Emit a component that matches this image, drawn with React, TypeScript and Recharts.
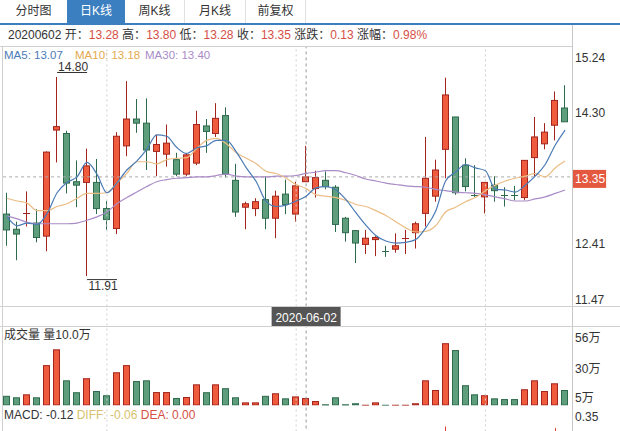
import React from 'react';
import { ComposedChart, Bar, Line, XAxis, YAxis, ReferenceLine, ReferenceDot } from 'recharts';

const FONT = '"Liberation Sans", Arial, "Noto Sans CJK SC", sans-serif';

const dates = ["2020-04-16","2020-04-17","2020-04-20","2020-04-21","2020-04-22","2020-04-23","2020-04-24","2020-04-27","2020-04-28","2020-04-29","2020-04-30","2020-05-06","2020-05-07","2020-05-08","2020-05-11","2020-05-12","2020-05-13","2020-05-14","2020-05-15","2020-05-18","2020-05-19","2020-05-20","2020-05-21","2020-05-22","2020-05-25","2020-05-26","2020-05-27","2020-05-28","2020-05-29","2020-06-01","2020-06-02","2020-06-03","2020-06-04","2020-06-05","2020-06-08","2020-06-09","2020-06-10","2020-06-11","2020-06-12","2020-06-15","2020-06-16","2020-06-17","2020-06-18","2020-06-19","2020-06-22","2020-06-23","2020-06-24","2020-06-29","2020-06-30","2020-07-01","2020-07-02","2020-07-03","2020-07-06","2020-07-07","2020-07-08","2020-07-09","2020-07-10"];

const opens = [12.81,12.59,12.80,12.68,12.49,14.03,13.98,13.28,13.27,13.27,12.89,12.60,13.80,14.19,14.13,13.72,13.68,13.60,13.39,13.55,14.09,13.98,14.24,13.30,12.91,12.89,13.02,12.75,13.10,12.81,13.28,13.18,13.30,13.20,12.75,12.57,12.37,12.44,12.27,12.30,12.45,12.54,12.82,13.07,13.75,14.22,13.52,13.09,13.06,13.23,13.08,13.08,13.05,13.63,13.83,14.10,14.35];
const highs = [13.12,12.70,13.14,12.88,13.72,14.80,14.02,13.59,13.76,13.61,13.00,14.00,14.74,14.48,14.49,13.96,14.11,13.70,13.69,14.31,14.19,14.42,14.36,13.54,12.99,13.04,13.36,13.15,13.31,13.28,13.80,13.44,13.43,13.23,12.77,12.57,12.58,12.49,12.35,12.53,12.58,12.70,13.93,13.60,14.79,14.22,13.62,13.52,13.27,13.36,13.20,13.22,13.59,14.22,14.13,14.59,14.68];
const lows = [12.35,12.14,12.63,12.40,12.27,13.56,13.11,12.91,11.91,12.81,12.58,12.52,13.65,13.99,13.45,13.36,13.50,13.36,13.36,13.52,13.70,13.93,13.34,12.77,12.59,12.78,12.59,12.46,12.81,12.70,13.28,13.05,13.17,12.55,12.41,12.10,12.23,12.20,12.19,12.25,12.23,12.31,12.63,12.99,13.33,13.09,13.14,13.06,12.82,12.99,12.92,13.01,13.01,13.36,13.75,13.88,14.15];
const closes = [12.58,12.52,12.82,12.47,13.71,14.08,13.26,13.23,13.51,12.89,12.73,13.94,14.19,14.13,13.74,13.82,13.84,13.39,13.67,14.11,14.01,14.20,13.39,12.84,12.96,12.99,12.75,13.07,12.95,13.22,13.35,13.34,13.21,12.66,12.54,12.39,12.46,12.47,12.26,12.35,12.46,12.67,13.33,13.45,14.54,13.12,13.21,13.08,13.27,13.15,13.07,13.07,13.59,13.93,14.00,14.46,14.15];

const ma5 = [12.77,12.64,12.68,12.66,12.82,13.12,13.27,13.35,13.56,13.39,13.12,13.26,13.45,13.58,13.75,13.96,13.94,13.78,13.69,13.77,13.80,13.88,13.88,13.71,13.48,13.28,12.99,12.92,12.94,13.00,13.07,13.19,13.21,13.16,13.02,12.83,12.65,12.50,12.42,12.39,12.40,12.44,12.61,12.85,13.29,13.42,13.53,13.48,13.44,13.17,13.16,13.13,13.23,13.36,13.53,13.81,14.03];
const ma10 = [13.04,13.00,12.97,12.86,12.86,12.92,12.96,13.04,13.11,13.11,13.12,13.26,13.40,13.57,13.57,13.54,13.60,13.62,13.63,13.76,13.88,13.91,13.83,13.70,13.62,13.54,13.43,13.40,13.33,13.24,13.18,13.09,13.07,13.05,13.01,12.95,12.92,12.86,12.79,12.70,12.61,12.55,12.56,12.64,12.84,12.91,12.99,13.05,13.15,13.23,13.29,13.33,13.36,13.40,13.35,13.48,13.58];
const ma30 = [12.78,12.74,12.69,12.67,12.67,12.67,12.67,12.68,12.72,12.77,12.84,12.96,13.05,13.13,13.21,13.28,13.31,13.33,13.34,13.35,13.35,13.37,13.39,13.36,13.35,13.35,13.35,13.36,13.36,13.37,13.40,13.42,13.44,13.44,13.41,13.37,13.32,13.29,13.26,13.24,13.22,13.21,13.20,13.17,13.15,13.13,13.12,13.11,13.09,13.06,13.03,13.00,13.00,13.03,13.06,13.11,13.16];

const volumes = [11.5,10.5,12.5,10.5,32.1,42.7,21.9,13.9,23.3,14.7,11.9,27.3,32.1,21.4,21.9,14.0,14.0,10.0,10.7,19.2,13.9,19.2,16.6,10.5,7.1,7.1,11.5,13.2,9.8,11.1,10.0,8.0,5.8,10.5,5.8,6.5,5.5,7.1,5.5,5.5,5.5,6.5,21.9,15.4,46.8,42.2,18.6,12.5,11.9,9.8,9.3,9.3,15.9,21.9,14.7,19.9,15.4];

const macd = [-0.08,-0.10,-0.09,-0.10,0.00,0.10,0.08,0.06,0.08,0.02,-0.03,0.05,0.11,0.12,0.10,0.08,0.06,0.02,0.02,0.06,0.06,0.08,0.00,-0.08,-0.11,-0.12,-0.15,-0.12,-0.12,-0.10,-0.12,-0.06,-0.05,-0.09,-0.12,-0.15,-0.15,-0.14,-0.14,-0.11,-0.08,-0.03,0.06,0.13,0.21,0.16,0.12,0.08,0.06,0.03,0.00,-0.02,0.05,0.11,0.14,0.20,0.16];
const diffValue = -0.06;
const deaValue = 0.0;

const priceTicks = [11.47, 12.41, 13.35, 14.30, 15.24];
const volumeTicks = [5, 30.5, 56];
const macdTicks = [0.35];
const tabs = ['分时图', '日K线', '周K线', '月K线', '前复权'];
const selectedTab = 1;
const selectedIndex = 30;
const gridIndices = [10, 29, 48];
const highIndex = 5;
const lowIndex = 8;

const RED = '#ef5b3d';
const RED_DARK = '#a3241c';
const GREEN = '#5f9e7d';
const GREEN_DARK = '#2d6a4c';
const MA5_C = '#4a7bb5';
const MA10_C = '#ebbd86';
const MA30_C = '#a98bc7';
const TEXT_RED = '#d64f45';

const data = dates.map((date, i) => ({
  date, open: opens[i], high: highs[i], low: lows[i], close: closes[i],
  ma5: ma5[i], ma10: ma10[i], ma30: ma30[i], vol: volumes[i], macd: macd[i],
}));

const MARGIN_LR = { left: 2.3, right: 2.9 };
const AXIS_W = 47;

function Candle(props: any) {
  const { x, y, width, height, payload } = props;
  if (!payload || x == null || y == null) return null;
  const { open, close, high, low } = payload;
  const top = Math.min(y, y + height);
  const h = Math.abs(height);
  const span = high - low || 1;
  const py = (v: number) => top + ((high - v) / span) * h;
  const up = close >= open;
  const bx = Math.round(x) + 0.5;
  const bw = width - 1;
  const cx = Math.round(x) + 3.5;
  const bTop = py(Math.max(open, close));
  const bBot = py(Math.min(open, close));
  const stroke = up ? RED_DARK : GREEN_DARK;
  const fill = up ? RED : GREEN;
  return (
    <g>
      <line x1={cx} x2={cx} y1={py(high)} y2={py(low)} stroke={stroke} strokeWidth={1} />
      {bBot - bTop < 1.5 ? (
        <line x1={bx - 0.5} x2={bx + bw + 0.5} y1={Math.round(bTop) + 0.5} y2={Math.round(bTop) + 0.5} stroke={stroke} strokeWidth={1} />
      ) : (
        <rect x={bx} y={bTop} width={bw} height={bBot - bTop} fill={fill} stroke={stroke} strokeWidth={1} />
      )}
    </g>
  );
}

function VolBar(props: any) {
  const { x, y, width, height, payload } = props;
  if (!payload || x == null || y == null) return null;
  const up = payload.close >= payload.open;
  const top = Math.min(y, y + height);
  const h = Math.abs(height);
  return (
    <rect x={Math.round(x) + 0.5} y={top + 0.5} width={width - 1} height={Math.max(h - 1, 0.5)}
      fill={up ? RED : GREEN} stroke={up ? RED_DARK : GREEN_DARK} strokeWidth={1} />
  );
}

function MacdBar(props: any) {
  const { x, y, width, height, payload } = props;
  if (!payload || x == null || y == null) return null;
  const top = Math.min(y, y + height);
  const h = Math.abs(height);
  const cx = Math.round(x + width / 2) + 0.5;
  const up = payload.macd >= 0;
  return <line x1={cx} x2={cx} y1={top} y2={top + h} stroke={up ? '#e0403a' : '#3f8a62'} strokeWidth={1} />;
}

function PriceTick(props: any) {
  const { x, y, payload } = props;
  const v = payload.value as number;
  const label = v.toFixed(2);
  if (v === closes[selectedIndex]) {
    return (
      <g>
        <rect x={x - 3} y={y - 7} width={34} height={18} fill="#e4583f" />
        <text x={x} y={y + 6} fill="#fff" fontSize={12}>{label}</text>
      </g>
    );
  }
  const dy = v === priceTicks[priceTicks.length - 1] ? 15 : v === priceTicks[0] ? -2 : 6;
  return <text x={x} y={y + dy} fill="#333" fontSize={12}>{label}</text>;
}

function VolTick(props: any) {
  const { x, y, payload } = props;
  const v = payload.value as number;
  const dy = v === volumeTicks[volumeTicks.length - 1] ? 12 : v === volumeTicks[0] ? -4 : 5;
  return <text x={x} y={y + dy} fill="#333" fontSize={12}>{Math.floor(v) + '万'}</text>;
}

function MacdTick(props: any) {
  const { x, y, payload } = props;
  return <text x={x} y={y + 14} fill="#333" fontSize={12}>{(payload.value as number).toFixed(2)}</text>;
}

function HighMark(props: any) {
  const { cx, cy } = props;
  if (cx == null) return null;
  return (
    <g>
      <line x1={cx} x2={cx + 30} y1={cy - 4.5} y2={cy - 4.5} stroke="#333" strokeWidth={1} />
      <text x={cx + 1} y={cy - 6} fill="#333" fontSize={12}>{highs[highIndex].toFixed(2)}</text>
    </g>
  );
}

function LowMark(props: any) {
  const { cx, cy } = props;
  if (cx == null) return null;
  return (
    <g>
      <line x1={cx} x2={cx + 30} y1={cy + 3.5} y2={cy + 3.5} stroke="#333" strokeWidth={1} />
      <text x={cx + 1.5} y={cy + 14} fill="#333" fontSize={12}>{lows[lowIndex].toFixed(2)}</text>
    </g>
  );
}

function DateTag(props: any) {
  const vb = props.viewBox || {};
  if (vb.x == null) return null;
  return (
    <g>
      <rect x={vb.x - 34.5} y={vb.y} width={69} height={20} fill="#555" />
      <text x={vb.x} y={vb.y + 14.5} fill="#fff" fontSize={12} textAnchor="middle">{dates[selectedIndex]}</text>
    </g>
  );
}

const gridLines = (withCross: boolean) => [
  ...gridIndices.map((gi) => (
    <ReferenceLine key={'g' + gi} x={dates[gi]} stroke="#cfcfcf" strokeDasharray="2 3" />
  )),
  withCross ? <ReferenceLine key="cross" x={dates[selectedIndex]} stroke="#999" strokeDasharray="3 3" /> : null,
];

const abs = (l: number, t: number, w: number, h: number): React.CSSProperties => ({ position: 'absolute', left: l, top: t, width: w, height: h });

export default function App() {
  const cur = selectedIndex;
  const change = closes[cur] - closes[cur - 1];
  const pct = (change / closes[cur - 1]) * 100;
  const tabEdges = [0, 67, 125, 185, 246, 306];
  return (
    <div style={{ position: 'absolute', left: 0, top: 0, width: 620, height: 431, overflow: 'hidden', background: '#fff', fontFamily: FONT, color: '#333' }}>
      {/* price chart */}
      <div style={abs(0, 0, 620, 307)}>
        <ComposedChart width={620} height={307} data={data} margin={{ top: 46.7, bottom: 0.6, ...MARGIN_LR }}>
          <XAxis dataKey="date" hide />
          <YAxis orientation="right" width={AXIS_W} domain={[priceTicks[0], priceTicks[priceTicks.length - 1]]} ticks={priceTicks}
            allowDataOverflow axisLine={false} tickLine={false} tickSize={0} tickMargin={5} tick={<PriceTick />} interval={0} />
          {gridLines(true)}
          <ReferenceLine y={closes[selectedIndex]} stroke="#aaa" strokeDasharray="3 3" />
          <Bar dataKey={(d: any) => [d.low, d.high]} barSize={7} shape={<Candle />} isAnimationActive={false} />
          <Line dataKey="ma30" type="monotone" stroke={MA30_C} strokeWidth={1.2} dot={false} activeDot={false} isAnimationActive={false} />
          <Line dataKey="ma10" type="monotone" stroke={MA10_C} strokeWidth={1.2} dot={false} activeDot={false} isAnimationActive={false} />
          <Line dataKey="ma5" type="monotone" stroke={MA5_C} strokeWidth={1.2} dot={false} activeDot={false} isAnimationActive={false} />
          <ReferenceDot x={dates[highIndex]} y={highs[highIndex]} r={0} shape={(p: any) => <HighMark {...p} />} />
          <ReferenceDot x={dates[lowIndex]} y={lows[lowIndex]} r={0} shape={(p: any) => <LowMark {...p} />} />
        </ComposedChart>
      </div>

      {/* volume chart */}
      <div style={abs(0, 307, 620, 100)}>
        <ComposedChart width={620} height={100} data={data} margin={{ top: 0, bottom: 1.5, ...MARGIN_LR }}>
          <XAxis dataKey="date" hide />
          <YAxis orientation="right" width={AXIS_W} domain={[5, 71.1]} ticks={volumeTicks} allowDataOverflow
            axisLine={false} tickLine={false} tickSize={0} tickMargin={5} tick={<VolTick />} interval={0} />
          {gridLines(false)}
          <ReferenceLine x={dates[selectedIndex]} stroke="#999" strokeDasharray="3 3" label={<DateTag />} />
          <Bar dataKey="vol" barSize={7} shape={<VolBar />} isAnimationActive={false} />
        </ComposedChart>
      </div>

      {/* macd chart */}
      <div style={abs(0, 405.5, 620, 101)}>
        <ComposedChart width={620} height={101} data={data} margin={{ top: 0.5, bottom: 0.5, ...MARGIN_LR }}>
          <XAxis dataKey="date" hide />
          <YAxis orientation="right" width={AXIS_W} domain={[-0.35, 0.35]} ticks={macdTicks} allowDataOverflow
            axisLine={false} tickLine={false} tickSize={0} tickMargin={5} tick={<MacdTick />} interval={0} />
          {gridLines(true)}
          <Bar dataKey="macd" barSize={3} shape={<MacdBar />} isAnimationActive={false} />
        </ComposedChart>
      </div>

      {/* frame lines */}
      <div style={{ ...abs(0, 46, 573, 1), background: '#d0d0d0' }} />
      <div style={{ ...abs(572, 25, 1, 406), background: '#c8c8c8' }} />
      <div style={{ ...abs(2, 47, 1, 384), background: '#d0d0d0' }} />
      <div style={{ ...abs(0, 306, 620, 1), background: '#d0d0d0' }} />
      <div style={{ ...abs(0, 326, 620, 1), background: '#d0d0d0' }} />

      {/* tabs */}
      {tabs.map((t, i) => (
        <div key={t} style={{
          ...abs(tabEdges[i], 0, tabEdges[i + 1] - tabEdges[i], 23), boxSizing: 'border-box',
          borderRight: i === selectedTab - 1 || i === selectedTab ? 'none' : '1px solid #e0e0e0',
          background: i === selectedTab ? '#3b7fc0' : '#fff', color: i === selectedTab ? '#fff' : '#333',
          fontSize: 12, lineHeight: '23px', textAlign: 'center',
        }}>{t}</div>
      ))}
      <div style={{ ...abs(0, 23, 620, 2), background: '#3b7fc0' }} />

      {/* info row */}
      <div style={{ ...abs(8, 25, 560, 21), fontSize: 12, lineHeight: '21px', whiteSpace: 'nowrap' }}>
        {dates[cur].replace(/-/g, '')} 开：<span style={{ color: TEXT_RED }}>{opens[cur].toFixed(2)}</span>{' '}
        高：<span style={{ color: TEXT_RED }}>{highs[cur].toFixed(2)}</span>{' '}
        低：<span style={{ color: TEXT_RED }}>{lows[cur].toFixed(2)}</span>{' '}
        收：<span style={{ color: TEXT_RED }}>{closes[cur].toFixed(2)}</span>{' '}
        涨跌：<span style={{ color: TEXT_RED }}>{change.toFixed(2)}</span>{' '}
        涨幅：<span style={{ color: TEXT_RED }}>{pct.toFixed(2)}%</span>
      </div>

      {/* MA legend */}
      <div style={{ ...abs(4, 47, 300, 16), fontSize: 11.5, lineHeight: '16px', whiteSpace: 'nowrap' }}>
        <span style={{ position: 'absolute', left: 0, color: MA5_C }}>MA5: {ma5[cur].toFixed(2)}</span>
        <span style={{ position: 'absolute', left: 71, color: '#e4a94e' }}>MA10: {ma10[cur].toFixed(2)}</span>
        <span style={{ position: 'absolute', left: 141, color: MA30_C }}>MA30: {ma30[cur].toFixed(2)}</span>
      </div>

      {/* volume legend */}
      <div style={{ ...abs(4, 327, 300, 16), fontSize: 12, lineHeight: '16px', whiteSpace: 'nowrap' }}>
        成交量 量{volumes[cur].toFixed(1)}万
      </div>

      {/* macd legend */}
      <div style={{ ...abs(4, 407, 400, 16), fontSize: 12, lineHeight: '16px', whiteSpace: 'nowrap' }}>
        MACD: {macd[cur].toFixed(2)} <span style={{ color: '#d6c26e' }}>DIFF: {diffValue.toFixed(2)}</span>{' '}
        <span style={{ color: TEXT_RED }}>DEA: {deaValue.toFixed(2)}</span>
      </div>
    </div>
  );
}
